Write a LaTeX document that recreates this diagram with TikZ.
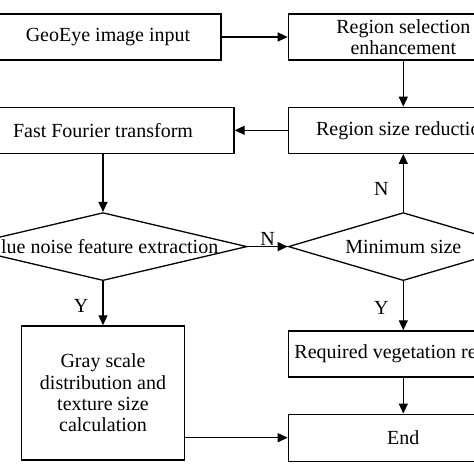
\documentclass[tikz,border=0pt]{standalone}
\usepackage{fontspec}
\setmainfont{Liberation Serif}
\usetikzlibrary{positioning,arrows.meta,shapes.geometric}
\tikzset{
  line/.style={-{Triangle[length=10pt,width=9pt]}, line width=1.3pt},
  box/.style={draw, line width=1.3pt, align=center, inner sep=2pt,
    font=\fontsize{20}{21.3}\selectfont},
  wbox/.style={box, minimum width=230pt, minimum height=46pt},
  decision/.style={box, diamond, inner sep=0pt},
  lab/.style={inner sep=2pt, font=\fontsize{20}{21.3}\selectfont}
}

\begin{document}
\begin{tikzpicture}
  \useasboundingbox (0,0) rectangle (474pt,-474pt);
  \clip (0,0) rectangle (474pt,-474pt);
  \node[box, minimum width=226pt, minimum height=46pt] (geo) at (108pt,-37pt) {GeoEye image input};
  \node[wbox, right=66pt of geo] (sel) {Region selection\\enhancement};
  \node[wbox, below=46pt of sel] (red) {Region size reduction};
  \node[box, minimum width=262pt, minimum height=46pt, left=53pt of red] (fft) {Fast Fourier transform};
  \node[decision, minimum width=288pt, minimum height=68pt, below=58pt of fft] (blue)
    {\makebox[0pt]{Blue noise feature extraction}};
  \node[decision, minimum width=230pt, minimum height=68pt, right=40pt of blue] (minsz)
    {\makebox[0pt]{Minimum size}};
  \node[box, minimum width=163pt, minimum height=134pt, below=44pt of blue] (gray)
    {Gray scale\\distribution and\\texture size\\calculation};
  \node[wbox, below=49pt of minsz] (req) {Required vegetation region};
  \node[wbox, minimum height=47pt, below=36pt of req] (end) {End};
  \draw[line] (geo) -- (sel);
  \draw[line] (sel) -- (red);
  \draw[line] (red) -- (fft);
  \draw[line] (fft) -- (blue);
  \draw[line] (blue) -- node[lab, above, inner sep=0pt]{N} (minsz);
  \draw[line] (minsz) -- node[lab, left=12pt, pos=0.4]{N} (red);
  \draw[line] (blue) -- node[lab, left=12pt, pos=0.55]{Y} (gray);
  \draw[line] (minsz) -- node[lab, left=12pt, pos=0.55]{Y} (req);
  \draw[line] (req) -- (end);
  \draw[line] (gray.east |- end.west) -- (end.west);
\end{tikzpicture}
\end{document}
